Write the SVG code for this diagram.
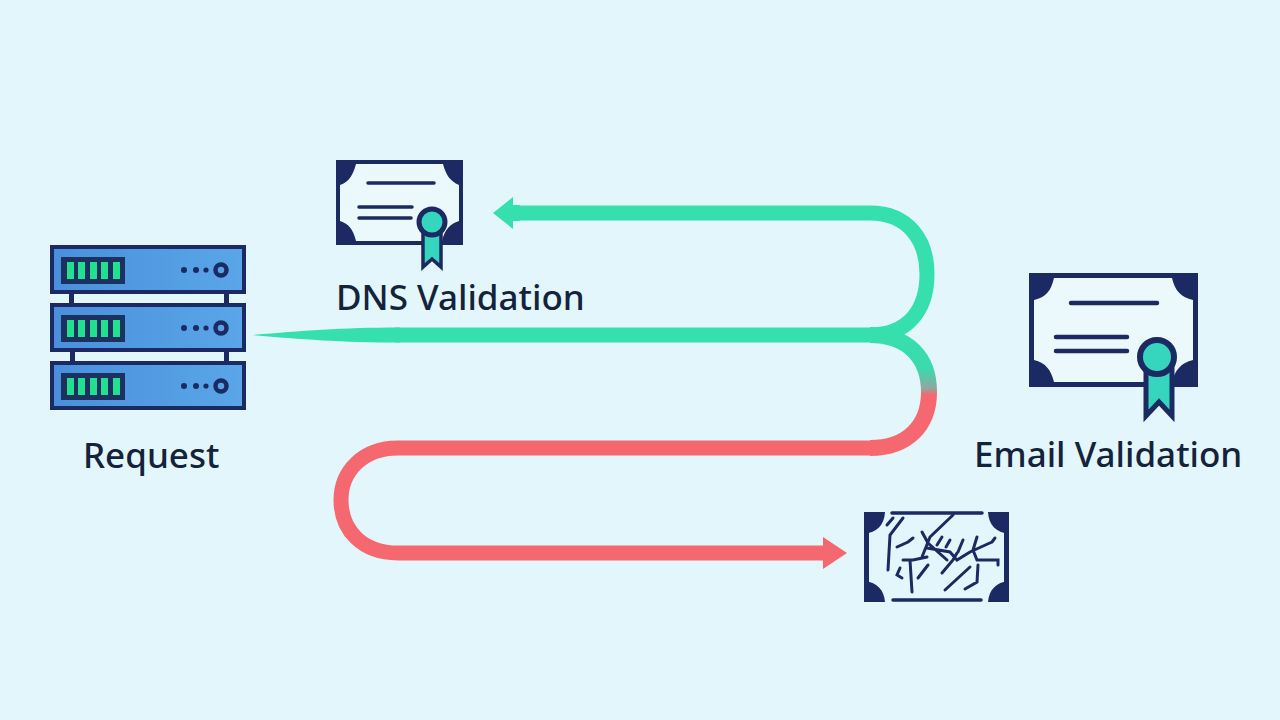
<svg xmlns="http://www.w3.org/2000/svg" width="1280" height="720" viewBox="0 0 1280 720">
<style>
.lbl{font-family:"Noto Sans","Open Sans",sans-serif;font-size:35px;font-weight:500;fill:#14233c}
.navy{fill:#1b2a63}
.ln{stroke:#1b2a63;stroke-linecap:round;fill:none}
.unit{fill:url(#body);stroke:#1b2a63;stroke-width:4}
.panel{fill:#1b3160}
.led{fill:#22e08f}
.dot{fill:#1b2a63}
.ring{fill:none;stroke:#1b2a63;stroke-width:4.500}
.sheet{fill:#ebf8fc}
.teal{fill:#35d6bd;stroke:#1b2a63}
</style>
<defs>
<linearGradient id="body" x1="0" y1="0" x2="1" y2="0">
<stop offset="0" stop-color="#4a8fdc"/>
<stop offset="1" stop-color="#5aa6e8"/>
</linearGradient>
<linearGradient id="mix" gradientUnits="userSpaceOnUse" x1="0" y1="335" x2="0" y2="448">
<stop offset="0" stop-color="#36dfae"/>
<stop offset="0.3" stop-color="#3cd9ae"/>
<stop offset="0.47" stop-color="#8fa8a0"/>
<stop offset="0.53" stop-color="#f5686f"/>
<stop offset="1" stop-color="#f5686f"/>
</linearGradient>
<g id="unit">
<rect class="unit" x="52" y="0" width="192" height="45"/>
<rect class="panel" x="61" y="10" width="64" height="27"/>
<rect class="led" x="67" y="15" width="7" height="17"/>
<rect class="led" x="78" y="15" width="7" height="17"/>
<rect class="led" x="90" y="15" width="7" height="17"/>
<rect class="led" x="101" y="15" width="7" height="17"/>
<rect class="led" x="113" y="15" width="7" height="17"/>
<circle class="dot" cx="184" cy="23" r="3"/>
<circle class="dot" cx="196" cy="23" r="3"/>
<circle class="dot" cx="206" cy="23" r="2.600"/>
<circle class="ring" cx="221" cy="23" r="5.500"/>
</g>
</defs>
<rect width="1280" height="720" fill="#e3f6fc"/>

<g id="connectors" fill="none" stroke-width="15">
<path d="M252 335 C300 331 340 327.500 400 327.500 L400 342.500 C340 342.500 300 339 252 335Z" fill="#36dfae" stroke="none"/>
<path d="M512 213 H870 C908 213 927 240 927 274 C927 310 908 335 870 335 H395" stroke="#36dfae"/>
<path d="M870 335 C908 335 929 358 929 392 C929 425 908 448 870 448" stroke="url(#mix)" stroke-width="16"/>
<path d="M870 448 H398 C362 448 341 472 341 500 C341 530 362 553 398 553 H828" stroke="#f5686f"/>
<path d="M493 213 L513 197 V205 H520 V221 H513 V229Z" fill="#36dfae" stroke="none"/>
<path d="M847 553 L823 537 V569Z" fill="#f5686f" stroke="none"/>
</g>

<g id="server">
<rect class="navy" x="69" y="293" width="5" height="11"/>
<rect class="navy" x="224" y="293" width="5" height="11"/>
<rect class="navy" x="70" y="351" width="5" height="11"/>
<rect class="navy" x="224" y="351" width="5" height="11"/>
<use href="#unit" y="247"/>
<use href="#unit" y="305"/>
<use href="#unit" y="363"/>
<text class="lbl" x="83" y="468">Request</text>
</g>

<g id="dns-validation">
<rect class="navy" x="336" y="160" width="127" height="85"/>
<path class="sheet" d="M356 164 H443 C446 175 450 181 459 185 V221 C450 224 445 229 442 241 H356 C353 229 349 224 340 221 V185 C349 182 353 175 356 164Z"/>
<path class="ln" stroke-width="3.500" d="M368 183 H434M359 207 H412M359 218 H411"/>
<path class="teal" stroke-width="3.500" d="M423 232 H441 V267 L432 259 L423 267Z"/>
<circle cx="432" cy="222" r="13" fill="#35d6bd" stroke="#1b2a63" stroke-width="5"/>
<text class="lbl" x="336" y="310">DNS Validation</text>
</g>

<g id="email-validation">
<rect class="navy" x="1029" y="273" width="169" height="114"/>
<path class="sheet" d="M1054 278 H1172 C1175 291 1181 297 1193 300 V360 C1181 363 1175 370 1172 382 H1054 C1051 370 1046 363 1034 360 V300 C1046 297 1051 291 1054 278Z"/>
<path class="ln" stroke-width="4.500" d="M1071 303 H1157M1056 337 H1127M1056 351 H1127"/>
<path class="teal" stroke-width="5" d="M1146 364 H1172 V416 L1159 402 L1146 416Z"/>
<circle cx="1157" cy="357" r="17" fill="#35d6bd" stroke="#1b2a63" stroke-width="6"/>
<text class="lbl" x="974" y="467">Email Validation</text>
</g>

<g id="scrambled-certificate">
<path class="navy" d="M864 512 H885 C884 526 877 532 864 534Z"/>
<path class="navy" d="M1009 512 H988 C989 526 996 532 1009 534Z"/>
<path class="navy" d="M864 602 H885 C884 590 877 582 864 581Z"/>
<path class="navy" d="M1009 602 H988 C989 590 996 582 1009 581Z"/>
<rect class="navy" x="864" y="512" width="5" height="90"/>
<rect class="navy" x="1004" y="512" width="5" height="90"/>
<path class="ln" stroke-width="3.500" d="M892 513 H982M893 600 H981"/>
<path class="ln" stroke-width="3" d="M903 518 L890 535 L888 570M887 525 L893 518M953 515 L930 537 L922 557M922 532 L928 543 L947 560M897 547 L908 542 L913 538M927 548 L950 552 L957 560 L970 552 L992 542M942 537 L937 545M950 540 L946 547M977 537 L973 550 L977 560 L998 560 L998 565M910 560 L912 592M927 557 L913 560 L903 560M900 568 L897 575 L902 578M928 565 L918 578M970 567 L945 590M978 565 L977 582 L965 589M957 553 L953 560 L942 573M963 540 L958 552M992 542 L995 538"/>
</g>
</svg>
